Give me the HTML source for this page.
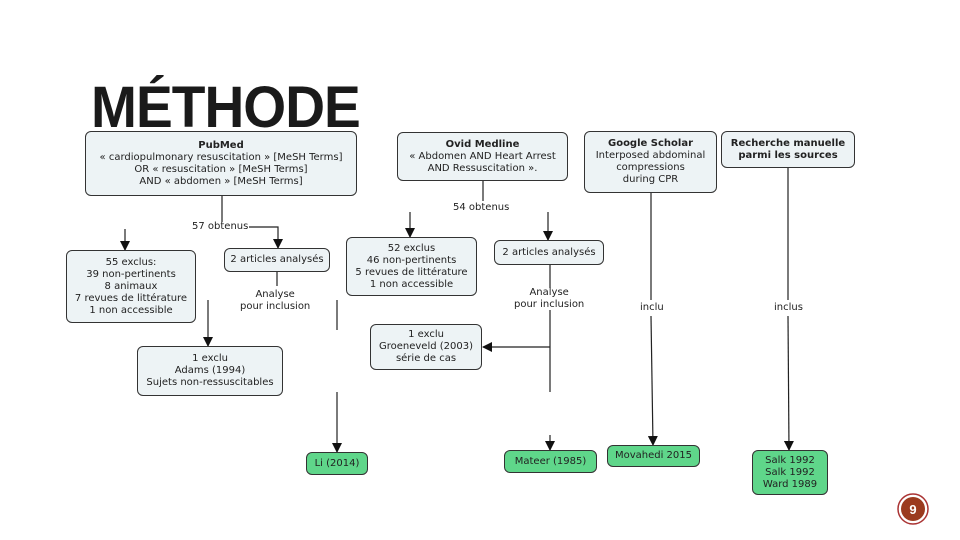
<!DOCTYPE html>
<html><head><meta charset="utf-8"><style>
body{margin:0;width:960px;height:540px;background:#fff;position:relative;overflow:hidden;font-family:"DejaVu Sans","Liberation Sans",sans-serif;}
.t{position:absolute;left:91px;top:74px;font:bold 58px "Liberation Sans",sans-serif;color:#1a1a1a;letter-spacing:-1px;transform:scaleX(0.95);transform-origin:left top;}
.b{position:absolute;box-sizing:border-box;background:#edf3f5;border:1.3px solid #333;border-radius:6px;font-size:10px;line-height:12px;text-align:center;color:#222;display:flex;flex-direction:column;justify-content:center;}
.g{background:#5fd68a;}
.l{position:absolute;font-size:10px;line-height:12px;text-align:center;color:#222;white-space:nowrap;}
svg{position:absolute;left:0;top:0;}
</style></head><body>
<div class="t">MÉTHODE</div>
<svg width="960" height="540">
<defs><marker id="a" markerWidth="10" markerHeight="10" refX="9" refY="5" orient="auto" markerUnits="userSpaceOnUse"><path d="M0,0 L10,5 L0,10 z" fill="#111"/></marker></defs>
<g stroke="#222" stroke-width="1.2" fill="none">
<line x1="222" y1="196" x2="222" y2="222"/>
<polyline points="249,227 278,227 278,248" marker-end="url(#a)"/>
<line x1="125" y1="229" x2="125" y2="250" marker-end="url(#a)"/>
<line x1="483" y1="181" x2="483" y2="201"/>
<line x1="410" y1="212" x2="410" y2="237" marker-end="url(#a)"/>
<line x1="548" y1="212" x2="548" y2="240" marker-end="url(#a)"/>
<line x1="277" y1="272" x2="277" y2="286"/>
<line x1="208" y1="300" x2="208" y2="346" marker-end="url(#a)"/>
<line x1="337" y1="300" x2="337" y2="330"/>
<line x1="337" y1="392" x2="337" y2="452" marker-end="url(#a)"/>
<line x1="550" y1="265" x2="550" y2="288"/>
<line x1="550" y1="310" x2="550" y2="392"/>
<line x1="550" y1="347" x2="483" y2="347" marker-end="url(#a)"/>
<line x1="550" y1="435" x2="550" y2="450" marker-end="url(#a)"/>
<line x1="651" y1="193" x2="651" y2="300"/>
<line x1="651" y1="316" x2="653" y2="445" marker-end="url(#a)"/>
<line x1="788" y1="168" x2="788" y2="300"/>
<line x1="788" y1="316" x2="789" y2="450" marker-end="url(#a)"/>
</g>
<circle cx="913" cy="509" r="15" fill="#fff" stroke="#a33" stroke-width="1.5"/>
<circle cx="913" cy="509" r="12" fill="#9b3a1e"/>
<text x="913" y="514" fill="#fff" font-size="13" font-weight="bold" text-anchor="middle" font-family="Liberation Sans">9</text>
</svg>
<div class="b" style="left:85px;top:131px;width:272px;height:65px"><b>PubMed</b>« cardiopulmonary resuscitation » [MeSH Terms]<br>OR « resuscitation » [MeSH Terms]<br>AND « abdomen » [MeSH Terms]</div>
<div class="b" style="left:397px;top:132px;width:171px;height:49px"><b>Ovid Medline</b>« Abdomen AND Heart Arrest<br>AND Ressuscitation ».</div>
<div class="b" style="left:584px;top:131px;width:133px;height:62px"><b>Google Scholar</b>Interposed abdominal<br>compressions<br>during CPR</div>
<div class="b" style="left:721px;top:131px;width:134px;height:37px"><b>Recherche manuelle<br>parmi les sources</b></div>
<div class="b" style="left:66px;top:250px;width:130px;height:73px">55 exclus:<br>39 non-pertinents<br>8 animaux<br>7 revues de littérature<br>1 non accessible</div>
<div class="b" style="left:224px;top:248px;width:106px;height:24px">2 articles analysés</div>
<div class="b" style="left:346px;top:237px;width:131px;height:59px">52 exclus<br>46 non-pertinents<br>5 revues de littérature<br>1 non accessible</div>
<div class="b" style="left:494px;top:240px;width:110px;height:25px">2 articles analysés</div>
<div class="b" style="left:137px;top:346px;width:146px;height:50px">1 exclu<br>Adams (1994)<br>Sujets non-ressuscitables</div>
<div class="b" style="left:370px;top:324px;width:112px;height:46px">1 exclu<br>Groeneveld (2003)<br>série de cas</div>
<div class="b g" style="left:306px;top:452px;width:62px;height:23px">Li (2014)</div>
<div class="b g" style="left:504px;top:450px;width:93px;height:23px">Mateer (1985)</div>
<div class="b g" style="left:607px;top:445px;width:93px;height:22px">Movahedi 2015</div>
<div class="b g" style="left:752px;top:450px;width:76px;height:45px">Salk 1992<br>Salk 1992<br>Ward 1989</div>
<div class="l" style="left:192px;top:221px">57 obtenus</div>
<div class="l" style="left:453px;top:202px">54 obtenus</div>
<div class="l" style="left:240px;top:289px">Analyse<br>pour inclusion</div>
<div class="l" style="left:514px;top:287px">Analyse<br>pour inclusion</div>
<div class="l" style="left:640px;top:302px">inclu</div>
<div class="l" style="left:774px;top:302px">inclus</div>
</body></html>
